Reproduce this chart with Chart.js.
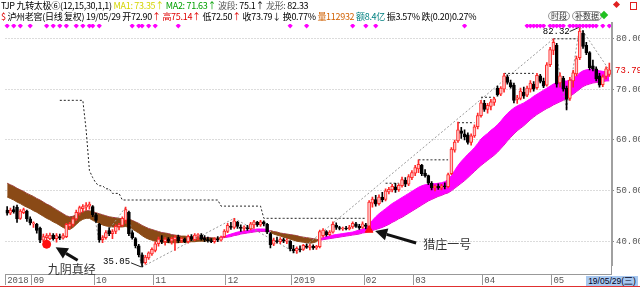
<!DOCTYPE html>
<html><head><meta charset="utf-8">
<script src="https://cdn.jsdelivr.net/npm/chart.js@4/dist/chart.umd.min.js"></script>
<style>
html,body{margin:0;padding:0;background:#fff;}
#wrap{position:relative;width:640px;height:287px;overflow:hidden;font-family:"Noto Sans CJK SC",sans-serif;}
canvas{position:absolute;left:0;top:0;}
.hd{position:absolute;left:1px;font-size:9px;line-height:10px;white-space:nowrap;letter-spacing:-0.3px;color:#000;}
.ann{position:absolute;font-size:12px;line-height:13px;color:#333;white-space:nowrap;}
.num{position:absolute;font-family:"Liberation Mono",monospace;font-size:9px;line-height:9px;color:#000;white-space:nowrap;}
.btn{position:absolute;top:11px;font-size:8px;line-height:8px;border:1px solid #999;border-radius:5px;padding:0 2px;color:#333;background:#fafafa;}
</style></head><body>
<div id="wrap">
<canvas id="c" width="640" height="287"></canvas>
<div class="hd" style="top:1px">TJP 九转太极⑥(12,15,30,1,1) <span style="color:#d4d400">MA1: 73.35↑</span> <span style="color:#00a000">MA2: 71.63↑</span> <span style="color:#555">波段:</span> 75.1↑ <span style="color:#555">龙形:</span> 82.33</div>
<div class="hd" style="top:12px"><span style="color:#e00000">$</span> 泸州老窖(日线 复权) 19/05/29 开72.90<span style="color:#e00000">↑</span> <span style="color:#e00000">高75.14↑</span> 低72.50<span style="color:#e00000">↑</span> 收73.79↓ 换0.77% <span style="color:#d06000">量112932</span> <span style="color:#008080">额8.4亿</span> 振3.57% 跌(0.20)0.27%</div>
<div class="btn" style="left:548px">时段</div>
<div class="btn" style="left:572px">补数据</div>
<div style="position:absolute;left:601px;top:12px;width:6px;height:6px;background:#20c020;transform:rotate(45deg);"></div>
<div style="position:absolute;left:614px;top:2px;width:5px;height:5px;background:#e02020;transform:rotate(45deg);"></div>
<div style="position:absolute;left:630px;top:2px;width:5px;height:6px;border:1px solid #e02020;"></div>
<div class="ann" id="lbl1">九阴真经</div>
<div class="ann" id="lbl2">猎庄一号</div>
<div class="num" id="lowLbl">35.05</div>
<div class="num" id="highLbl">82.32</div>
<div class="num" id="lastLbl" style="color:#e00000;font-size:9px">73.79</div>
<div style="position:absolute;left:586px;top:276px;width:52px;height:10px;background:#a8c8ef;font-family:'Liberation Sans',sans-serif;font-size:8.5px;line-height:10px;color:#002;text-align:center;">19/05/29(三)</div>
<div style="position:absolute;left:0;top:286px;width:640px;height:1px;background:#e03030;"></div>
</div>
<script>
// ---- categories: trading days per month ----
const tradeMonths = ['2018-08','2018-09','2018-10','2018-11','2018-12','2019-01','2019-02','2019-03','2019-04','2019-05'];
const tradeDays = [
 [22,23,24,27,28,29,30,31],
 [3,4,5,6,7,10,11,12,13,14,17,18,19,20,21,25,26,27,28],
 [8,9,10,11,12,15,16,17,18,19,22,23,24,25,26,29,30,31],
 [1,2,5,6,7,8,9,12,13,14,15,16,19,20,21,22,23,26,27,28,29,30],
 [3,4,5,6,7,10,11,12,13,14,17,18,19,20,21,24,25,26,27,28],
 [2,3,4,7,8,9,10,11,14,15,16,17,18,21,22,23,24,25,28,29,30,31],
 [1,11,12,13,14,15,18,19,20,21,22,25,26,27,28],
 [1,4,5,6,7,8,11,12,13,14,15,18,19,20,21,22,25,26,27,28,29],
 [1,2,3,4,8,9,10,11,12,15,16,17,18,19,22,23,24,25,26,29,30],
 [6,7,8,9,10,13,14,15,16,17,20,21,22,23,24,27,28,29]
];
const monthTickText = ['2018','09','10','11','12','2019','02','03','04','05'];

// ---- OHLC ----
const openP = [46.2,45.6,46.3,46.8,44.6,45.7,46.0,44.5,43.5,43.4, 42.7,40.3,40.8,40.6,41.3,40.6,41.0,40.7,41.0,43.0,
 43.4,44.5,45.6,46.5,46.8,47.0,46.9,45.3,43.4,40.4, 40.8,42.2,41.6,42.0,43.0,43.2,44.2,45.8,41.8,40.6,
 39.2,37.4,35.9,36.8,37.6,38.3,39.6,40.3,40.0,40.5, 40.1,40.4,40.9,40.3,40.5,40.0,41.0,40.4,41.2,41.3,
 40.7,40.4,40.2,40.0,40.5,40.3,41.0,42.0,43.0,42.8, 43.8,42.9,42.6,42.8,42.5,43.3,43.8,43.3,43.9,43.4,
 41.6,39.5,40.2,40.0,40.4,40.1,40.1,38.6,38.2,38.6, 38.5,39.2,38.9,39.1,38.8,39.0,41.2,42.0,41.4,41.9,
 43.2,42.7,42.5,42.7,42.5,42.9,43.5,43.0,42.8,43.3, 42.9,47.6,48.3,47.5,48.8,48.3,49.8,50.2,50.8,50.2,
 51.0,52.1,51.3,52.6,53.5,54.3,55.0,53.5,53.0,51.5, 50.6,50.9,50.6,51.0,50.8,53.4,58.0,59.8,61.8,61.2,
 61.0,59.5,60.8,62.6,64.8,67.2,66.0,66.6,67.4,70.2, 69.0,70.0,72.4,71.3,70.8,68.0,68.2,69.4,68.8,70.0,
 71.0,70.3,72.6,71.6,70.8,74.8,77.6,78.6,71.2,72.2, 70.2,68.2,71.6,73.0,76.2,81.0,78.6,77.2,74.6,74.0,
 72.6,70.9,72.5,72.90];
const highP = [46.9,46.6,47.0,47.2,46.3,46.6,46.2,44.9,43.9,43.6, 42.9,41.5,41.6,41.7,41.6,41.6,41.5,41.6,43.6,43.8,
 44.8,46.2,47.0,47.3,47.7,47.8,47.1,45.6,43.6,41.2, 42.2,42.8,42.4,43.3,43.6,44.9,46.8,46.0,42.2,40.8,
 39.5,37.8,37.3,38.0,38.8,40.0,40.9,41.2,40.8,40.8, 40.9,41.2,41.3,40.8,40.7,41.3,41.4,41.6,41.6,41.6,
 41.2,40.9,40.6,40.8,41.0,41.1,42.4,43.6,43.8,44.6, 44.0,43.3,43.1,43.2,43.8,44.2,44.0,44.2,44.1,43.6,
 41.8,40.7,40.9,40.8,40.7,40.6,40.2,39.3,39.0,39.2, 39.5,39.6,39.5,39.4,39.3,42.3,42.6,42.2,42.2,43.9,
 43.7,43.0,42.9,43.0,43.2,43.9,43.8,43.4,43.9,43.6, 48.1,48.8,49.1,49.2,49.7,50.4,50.7,51.3,51.5,51.4,
 52.7,52.6,53.2,54.0,55.0,56.1,55.2,54.2,53.1,51.8, 51.2,51.4,51.3,51.6,53.5,58.5,60.0,63.5,62.5,62.0,
 61.4,61.2,63.0,65.3,67.8,67.8,67.2,68.0,68.4,70.6, 70.5,73.1,72.8,71.8,71.2,68.8,70.2,70.4,70.6,71.7,
 71.5,73.1,72.9,72.2,75.2,78.2,79.9,79.0,73.2,72.5, 70.6,72.3,73.7,76.5,82.32,81.5,79.2,77.4,75.7,74.4,
 73.1,72.8,74.4,75.14];
const lowP = [45.2,45.3,45.6,43.8,44.4,45.5,44.0,43.3,42.8,41.7, 39.8,40.0,40.2,40.4,40.3,39.9,40.4,40.5,40.8,42.5,
 43.0,44.2,45.2,45.8,46.2,46.4,44.9,43.8,39.9,39.8, 40.5,41.2,40.6,41.6,42.3,43.0,43.6,41.2,40.5,38.8,
 37.0,35.05,35.6,36.5,37.3,38.0,39.1,39.6,39.3,39.8, 39.5,38.3,39.8,39.8,39.8,39.7,40.2,40.2,40.4,40.3,
 40.0,39.9,39.8,39.7,40.0,40.1,40.8,41.8,42.4,42.5, 42.6,42.0,42.1,42.2,42.3,42.6,43.0,43.0,43.1,41.6,
 38.8,39.2,39.7,39.6,39.8,39.6,38.2,37.8,37.7,38.0, 38.3,38.7,38.4,38.5,38.5,38.8,40.9,41.1,41.2,41.7,
 42.4,42.3,42.2,42.3,42.3,42.6,42.8,42.4,42.6,42.5, 42.7,46.8,47.0,47.2,47.8,48.0,49.4,49.8,49.7,49.9,
 50.7,50.8,51.0,52.2,53.0,53.6,53.0,52.7,51.2,50.2, 50.0,50.3,50.2,50.4,50.6,53.2,57.6,59.5,60.3,60.0,
 59.2,59.0,60.5,62.2,64.5,65.6,65.3,65.9,66.8,68.6, 68.7,69.4,71.0,70.2,67.3,67.2,67.9,68.2,68.5,69.4,
 69.6,70.0,71.2,70.3,70.6,74.4,76.8,70.4,70.4,69.6, 65.9,67.8,70.4,72.6,75.8,78.0,76.8,73.8,73.6,71.6,
 70.4,70.5,72.0,72.50];
const closeP = [45.6,46.2,45.9,44.5,46.0,46.3,44.5,43.7,43.6,42.2, 40.3,41.0,41.2,41.3,40.6,41.2,40.7,41.2,43.4,43.5,
 44.5,45.8,46.7,46.9,47.2,47.4,45.3,44.2,40.4,40.8, 41.8,41.6,42.0,43.0,43.3,44.6,46.3,41.6,40.8,39.2,
 37.4,35.8,37.0,37.8,38.5,39.6,40.5,40.0,40.5,40.1, 40.6,40.9,40.2,40.6,40.0,41.0,40.5,41.3,41.4,40.6,
 40.4,40.2,40.0,40.5,40.3,40.9,42.1,43.2,42.8,44.1, 43.0,42.6,42.9,42.5,43.5,43.9,43.3,43.9,43.5,41.9,
 39.4,40.3,40.0,40.5,40.1,40.3,38.6,38.2,38.7,38.4, 39.3,38.9,39.2,38.8,39.1,42.0,42.3,41.4,41.9,43.4,
 42.8,42.6,42.7,42.5,42.9,43.6,43.0,42.7,43.5,43.0, 47.8,48.4,47.4,48.8,48.2,50.0,50.3,50.9,50.2,51.1,
 52.2,51.3,52.8,53.6,54.6,55.2,53.4,53.0,51.5,50.6, 50.9,50.6,51.0,50.8,53.2,58.2,59.6,62.0,61.3,60.6,
 59.5,60.8,62.6,64.8,67.3,66.0,66.8,67.5,68.1,68.9, 70.2,72.6,71.3,70.5,67.8,68.3,69.6,68.6,70.2,71.2,
 70.0,72.7,71.5,70.6,74.8,77.8,79.2,71.0,72.6,70.0, 68.0,71.8,73.2,76.0,81.4,78.4,77.1,74.2,74.0,72.0,
 70.8,72.4,73.99,73.79];

// ---- MA band (MA1 fast, MA2 slow) ----
const ma1 = [48.8,48.5,48.2,47.8,47.5,47.1,46.8,46.5,46.1,45.8, 45.4,45.0,44.6,44.3,43.9,43.6,43.2,42.8,42.5,42.4,
 42.8,43.4,44.0,44.4,44.6,44.6,44.2,43.9,43.6,43.3, 43.1,43.0,42.9,42.9,42.9,42.9,43.0,42.8,42.5,42.1,
 41.7,41.2,40.8,40.5,40.3,40.1,40.0,39.9,39.9,39.8, 39.8,39.8,39.8,39.9,39.9,39.9,40.0,40.0,40.1,40.1,
 40.1,40.2,40.3,40.3,40.5, 40.9,41.1,41.3,41.5,41.7,41.9,42.0,42.1,42.2,42.3,42.4,42.5,42.5,42.5,42.4,
 41.8,41.5,41.3,41.1,40.9,40.7,40.5,40.3,40.1,40.0,39.9,39.8,39.7,39.8,40.0,
 40.6,40.8,41.0,41.1,41.3,41.4,41.5,41.6,41.7,41.8, 41.9,42.1,42.3,42.5,42.7,43.4,44.2,44.9,45.5,46.0,
 46.5,47.0,47.5,47.9,48.3,48.7,49.1,49.5,49.9,50.3, 50.7,51.0,51.2,51.3,51.4,51.4,51.5,51.6,51.8,52.2,
 53.0,54.0,55.0,55.8,56.5,57.2,57.8,58.5,59.3,60.2, 60.8,61.3,61.9,62.4,63.0,63.7,64.5,65.2,65.8,66.3,
 66.7,67.0,67.3,67.7,68.1,68.6,69.0,69.4,69.8,70.2, 70.6,71.0,71.3,71.5,71.6,71.6,71.8,72.1,72.6,73.2,
 73.6,73.8,73.9,73.9,73.8,73.6,73.5,73.4,73.35];
const ma2 = [51.5,51.2,50.9,50.5,50.2,49.9,49.5,49.2,48.9,48.5, 48.2,47.8,47.4,47.1,46.7,46.3,45.9,45.5,45.1,44.9,
 45.0,45.3,45.6,45.9,46.1,46.1,45.9,45.7,45.5,45.3, 45.1,44.9,44.8,44.7,44.6,44.5,44.5,44.4,44.2,43.9,
 43.6,43.2,42.9,42.6,42.4,42.2,42.0,41.8,41.7,41.6, 41.4,41.3,41.2,41.1,41.1,41.0,41.0,40.9,40.9,40.9,
 40.8,40.8,40.8,40.7,40.7, 40.7,40.8,40.9,41.0,41.2,41.3,41.5,41.6,41.7,41.8,41.9,42.0,42.0,42.0,42.0,
 42.2,42.0,41.9,41.7,41.6,41.5,41.4,41.3,41.2,41.0,40.9,40.8,40.7,40.6,40.5,
 40.3,40.4,40.5,40.6,40.7,40.8,40.9,41.0,41.1,41.2, 41.3,41.4,41.5,41.7,41.8,42.0,42.2,42.4,42.6,42.8,
 43.1,43.4,43.8,44.1,44.5,44.8,45.2,45.6,46.0,46.4, 46.8,47.2,47.6,48.0,48.3,48.6,48.9,49.1,49.4,49.6,
 50.0,50.5,51.0,51.5,52.0,52.6,53.2,53.8,54.4,55.0, 55.5,56.0,56.5,57.0,57.6,58.3,59.0,59.8,60.5,61.2,
 61.8,62.3,62.8,63.4,64.0,64.5,65.0,65.4,65.8,66.2, 66.5,66.9,67.2,67.5,67.8,68.2,68.6,69.0,69.5,70.0,
 70.5,70.8,71.0,71.2,71.3,71.4,71.5,71.6,71.63];

// ---- resistance step segments [startIdx, endIdx, level] ----
const stepSegments = [[16,23,67.8],[24,24,62.0],[25,25,54.0],[26,26,52.6],[27,27,51.5],[28,29,51.0],[30,31,50.4],
 [32,34,49.5],[35,64,48.2],[65,77,47.0],[78,109,44.6],
 [115,119,51.5],[125,134,56.1],[137,142,63.4],[144,148,68.4],[151,160,73.1],[166,174,79.9]];
// ---- swing (zigzag) pivots [idx, price] ----
const swingPivots = [[26,47.1],[28,39.8],[36,46.8],[41,35.05],[69,44.6],[88,37.7],[166,79.9],[170,65.9],[174,82.32],[183,73.7]];
// ---- signals ----
const signalIdx = [0,2,4,7,12,14,16,18,21,23,25,26,28,38,40,41,43,45,52,86,91,105,109,112,139,
 158,159,160,161,162,163,165,166,167,168,169,171,172,173,174,175,176,177,178,179,181,183];
const signalLevel = 82.45;
const jiuyinIdx = 12, jiuyinVal = 39.5;
const liezhuangIdx = 110, liezhuangVal = 42.3;
const lowIdx = 41, lowVal = 35.05, highIdx = 174, highVal = 82.32;
const lastClose = 73.79;
const yTicks = [40,50,60,70,80];

// ---- build ----
const labels = [], monthStart = {};
tradeMonths.forEach((m,k)=>{ tradeDays[k].forEach((d,j)=>{ if(j===0) monthStart[labels.length]=monthTickText[k]; labels.push(m+'-'+String(d).padStart(2,'0')); }); });
const N = labels.length;
const up = closeP.map((c,i)=>c>=openP[i]);
const RED='#ff2a2a', PINK='#ffc4c4', MAG='#ff00ff', BROWN='#8a4a16';
const wick = lowP.map((l,i)=>[l,highP[i]]);
const body = openP.map((o,i)=>[o,closeP[i]]);
const stepData = new Array(N).fill(null);
stepSegments.forEach(([a,b,v])=>{ for(let i=a;i<=b;i++) stepData[i]=v; });
const swingData = new Array(N).fill(null);
swingPivots.forEach(([i,v])=>{ swingData[i]=v; });
const sigData = new Array(N).fill(null);
signalIdx.forEach(i=>{ sigData[i]=signalLevel; });
const jyData = new Array(N).fill(null); jyData[jiuyinIdx]=jiuyinVal;
const lzData = new Array(N).fill(null); lzData[liezhuangIdx]=liezhuangVal;
const bandColor = i => ma1[i] >= ma2[i] ? MAG : BROWN;

const overlay = {
  id:'overlay',
  afterDraw(chart){
    const ctx = chart.ctx, xs = chart.scales.x, ys = chart.scales.y, ca = chart.chartArea;
    ctx.save();
    const lx = xs.getPixelForValue(N-1);
    ctx.strokeStyle='#a0a0a0'; ctx.lineWidth=2;
    ctx.beginPath(); ctx.moveTo(Math.round(lx)+3, ca.top-2); ctx.lineTo(Math.round(lx)+3, ca.bottom-8); ctx.stroke();
    function arrow(x1,y1,x2,y2){
      const ang=Math.atan2(y2-y1,x2-x1), hl=12, hw=6;
      const bx=x2-hl*Math.cos(ang), by=y2-hl*Math.sin(ang);
      ctx.strokeStyle='#111'; ctx.lineWidth=3;
      ctx.beginPath(); ctx.moveTo(x1,y1); ctx.lineTo(bx,by); ctx.stroke();
      ctx.fillStyle='#111'; ctx.beginPath();
      ctx.moveTo(x2,y2);
      ctx.lineTo(bx+hw*Math.sin(ang), by-hw*Math.cos(ang));
      ctx.lineTo(bx-hw*Math.sin(ang), by+hw*Math.cos(ang));
      ctx.closePath(); ctx.fill();
    }
    const m1x=xs.getPixelForValue(jiuyinIdx), m1y=ys.getPixelForValue(jiuyinVal);
    arrow(m1x+31,m1y+16,m1x+9,m1y+3);
    const m2x=xs.getPixelForValue(liezhuangIdx), m2y=ys.getPixelForValue(liezhuangVal);
    arrow(m2x+47,m2y+13,m2x+6,m2y+1);
    const lpx=xs.getPixelForValue(lowIdx), lpy=ys.getPixelForValue(lowVal);
    const hpx=xs.getPixelForValue(highIdx), hpy=ys.getPixelForValue(highVal);
    ctx.strokeStyle='#222'; ctx.lineWidth=1;
    ctx.beginPath(); ctx.moveTo(lpx-11,lpy-4); ctx.lineTo(lpx-1,lpy); ctx.stroke();
    ctx.beginPath(); ctx.moveTo(hpx-10,hpy+5); ctx.lineTo(hpx-1,hpy+1); ctx.stroke();
    ctx.restore();
    const set=(id,l,t)=>{const e=document.getElementById(id); e.style.left=l+'px'; e.style.top=t+'px';};
    set('lbl1', m1x+1, m1y+18);
    set('lbl2', m2x+54, m2y+7);
    const lo=document.getElementById('lowLbl'); set('lowLbl', lpx-12-lo.offsetWidth, lpy-9);
    const hi=document.getElementById('highLbl'); set('highLbl', hpx-10-hi.offsetWidth, hpy+2);
    set('lastLbl', ca.right+4, ys.getPixelForValue(lastClose)-3);
  }
};

new Chart(document.getElementById('c'), {
  type:'bar',
  data:{ labels, datasets:[
    { type:'line', label:'sig', data:sigData, order:-2, showLine:false, pointStyle:'rectRot', pointRadius:2.6,
      pointBackgroundColor:MAG, pointBorderColor:MAG, pointBorderWidth:0 },
    { type:'line', label:'jy', data:jyData, order:-1, showLine:false, pointStyle:'circle', pointRadius:4,
      pointBackgroundColor:'#ff1010', pointBorderColor:'#ff1010' },
    { type:'line', label:'lz', data:lzData, order:-1, showLine:false, pointStyle:'triangle', pointRadius:4.5,
      pointBackgroundColor:'#ff1010', pointBorderColor:'#ff1010' },
    { label:'body', data:body, order:0, grouped:false, barThickness:3, minBarLength:1, borderSkipped:false,
      backgroundColor: up.map(u=>u?PINK:'#000'), borderColor: up.map(u=>u?RED:'#000'), borderWidth:1 },
    { label:'wick', data:wick, order:1, grouped:false, barThickness:1, borderWidth:0,
      backgroundColor: up.map(u=>u?RED:'#000') },
    { type:'line', label:'step', data:stepData, order:2, borderColor:'#222', borderWidth:1, borderDash:[2,2],
      pointRadius:0, spanGaps:false, fill:false },
    { type:'line', label:'swing', data:swingData, order:2, borderColor:'#999', borderWidth:1, borderDash:[2,2],
      pointRadius:0, spanGaps:true, fill:false },
    { type:'line', label:'MA1', data:ma1, order:3, pointRadius:0, borderWidth:1,
      segment:{ borderColor: c => bandColor(c.p0DataIndex) },
      fill:{ target:'+1', above:MAG, below:BROWN } },
    { type:'line', label:'MA2', data:ma2, order:3, pointRadius:0, borderWidth:1,
      segment:{ borderColor: c => bandColor(c.p0DataIndex) }, fill:false }
  ]},
  options:{
    responsive:false, animation:false, devicePixelRatio:1,
    layout:{ padding:{ top:24, left:0, right:0, bottom:0 } },
    plugins:{ legend:{display:false}, tooltip:{enabled:false} },
    scales:{
      x:{ type:'category', offset:true,
        grid:{ drawOnChartArea:false, drawTicks:true, tickLength:11, offset:true,
          tickColor: c => (monthStart[c.index]!==undefined ? '#999' : 'rgba(0,0,0,0)') },
        border:{ display:true, color:'#999', width:1 },
        ticks:{ autoSkip:false, maxRotation:0, minRotation:0, align:'start', padding:-10,
          font:{ family:'"Liberation Mono", monospace', size:9 }, color:'#555',
          callback:(v,i)=> monthStart[i]!==undefined ? monthStart[i] : '' },
        afterFit: s => { s.height = 13; } },
      y:{ position:'right', min:33.65, max:82.81,
        afterBuildTicks: a => { a.ticks = yTicks.map(v=>({value:v})); },
        grid:{ color:'#b8b8b8', lineWidth:1, drawTicks:true, tickLength:3, tickColor:'#888' },
        border:{ display:true, color:'#999', dash:[1,2] },
        ticks:{ padding:2, color:'#555', font:{ family:'"Liberation Mono", monospace', size:9 },
          callback: v => Number(v).toFixed(2) },
        afterFit: s => { s.width = 29; } }
    }
  },
  plugins:[overlay]
});
</script>
</body></html>
